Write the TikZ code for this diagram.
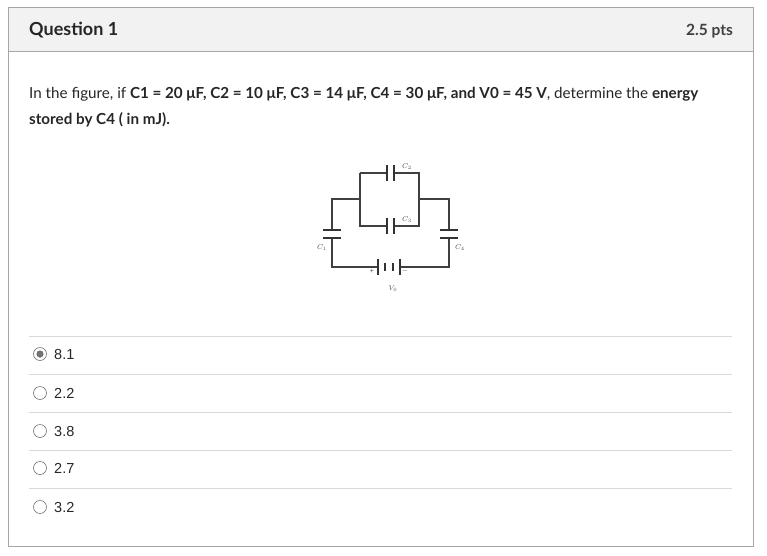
\documentclass[tikz,border=0pt]{standalone}
\usepackage{fontspec}
\setmainfont{Lato}
\newfontfamily\arial{Liberation Sans}
\begin{document}
\begin{tikzpicture}[x=1pt,y=-1pt,
 wire/.style={draw=black!75,line width=1.1pt},
 plate/.style={draw=black!80,line width=1.1pt},
 sep/.style={draw=black!15,line width=0.8pt},
 opt/.style={anchor=west,font=\arial\fontsize{14.5}{16}\selectfont,text=black!85,inner sep=0},
 radio/.style={circle,draw=black!55,line width=0.6pt,minimum size=13pt,inner sep=0},
 lbl/.style={font=\fontsize{7}{8}\selectfont,text=black!70,inner sep=0}]
\useasboundingbox (0,0) rectangle (767,555);
\fill[black!5] (8,7) rectangle (753,51);
\draw[black!35,line width=0.8pt] (8,7) rectangle (753,546);
\draw[black!35,line width=0.8pt] (8,51) -- (753,51);
\node[anchor=west,font=\bfseries\fontsize{18}{20}\selectfont,text=black!85,inner sep=0] (q) at (29,30) {Question 1};
\node[anchor=east,font=\bfseries\fontsize{15.5}{17}\selectfont,text=black!75,inner sep=0] (pts) at (733,31) {2.5 pts};
\node[anchor=west,font=\fontsize{15.2}{17}\selectfont,text=black!85,inner sep=0] (t1) at (29,94) {In the figure, if \textbf{C1 = 20 μF, C2 = 10 μF, C3 = 14 μF, C4 = 30 μF, and V0 = 45 V}, determine the \textbf{energy}};
\node[anchor=west,font=\bfseries\fontsize{15.2}{17}\selectfont,text=black!85,inner sep=0] (t2) at (29,120) {stored by C4 ( in mJ).};
% circuit
\coordinate (TL) at (360,173); \coordinate (TR) at (419,173);
\coordinate (ML) at (360,199); \coordinate (MR) at (419,199);
\coordinate (BL) at (360,226); \coordinate (BR) at (419,226);
\coordinate (LT) at (332,199); \coordinate (RT) at (449,199);
\coordinate (LB) at (332,267); \coordinate (RB) at (449,267);
\draw[wire] (TL) -- (387,173) (394,173) -- (TR) -- (BR) -- (394,226) (387,226) -- (BL) -- (TL);
\draw[plate] (387,165) -- (387,181) (394,165) -- (394,181);
\draw[plate] (387,218) -- (387,234) (394,218) -- (394,234);
\draw[wire] (ML) -- (LT) -- (332,230) (332,238) -- (LB) -- (378,267) (400,267) -- (RB) -- (449,238) (449,230) -- (RT) -- (MR);
\draw[plate] (323,230) -- (341,230) (323,238) -- (341,238);
\draw[plate] (440,230) -- (458,230) (440,238) -- (458,238);
\draw[plate] (378,259) -- (378,275) (400,259) -- (400,275);
\draw[plate] (385,263) -- (385,271) (393,263) -- (393,271);
\node[lbl] (c2) at (407,167) {$C_2$};
\node[lbl] (c3) at (407,220) {$C_3$};
\node[lbl] (c1) at (322,248) {$C_1$};
\node[lbl] (c4) at (460,248) {$C_4$};
\node[lbl] (v0) at (393,289) {$V_0$};
\node[lbl] (pl) at (372,271) {+};
\node[lbl] (mi) at (405,271) {$-$};
% options
\foreach \y in {336,374,412,450,488} \draw[sep] (29,\y) -- (732,\y);
\foreach \y/\v/\n in {354/8.1/a,393/2.2/b,431/3.8/c,468/2.7/d,507/3.2/e}{
  \node[radio] (r\n) at (40,\y) {};
  \node[opt] (o\n) at (54,\y) {\v};
}
\fill[black!55] (ra) circle (3.6pt);
\end{tikzpicture}
\end{document}
